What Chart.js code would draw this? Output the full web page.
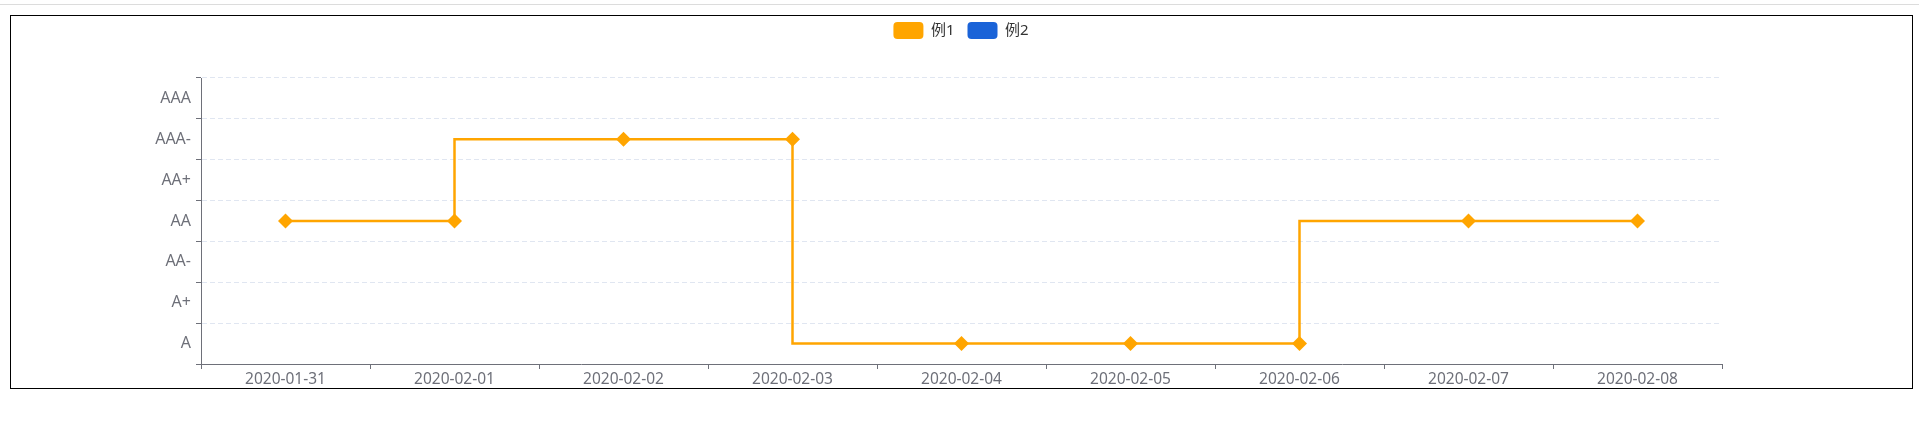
<!DOCTYPE html>
<html>
<head>
<meta charset="utf-8">
<title>rating steps</title>
<script src="https://cdn.jsdelivr.net/npm/chart.js@4/dist/chart.umd.min.js"></script>
<style>
  html, body { margin: 0; padding: 0; background: #fff; }
  body { width: 1919px; height: 435px; position: relative; overflow: hidden; }
  #topline { position: absolute; left: 0; top: 4px; width: 1919px; height: 1px; background: #dcdcdc; }
  #box { position: absolute; left: 10px; top: 15px; width: 1901px; height: 372px; border: 1px solid #000; }
  #wrap { position: absolute; left: 11px; top: 9px; width: 1900px; height: 379px; }
</style>
</head>
<body>
<div id="topline"></div>
<div id="box"></div>
<div id="wrap"><canvas id="myChart" width="1900" height="379"></canvas></div>
<script>
const dates = ['2020-01-31', '2020-02-01', '2020-02-02', '2020-02-03', '2020-02-04',
               '2020-02-05', '2020-02-06', '2020-02-07', '2020-02-08'];
const ratingLabels = ['A', 'A+', 'AA-', 'AA', 'AA+', 'AAA-', 'AAA'];
const series1 = ['AA', 'AA', 'AAA-', 'AAA-', 'A', 'A', 'A', 'AA', 'AA'];
const series2 = [];
const seriesNames = ['例1', '例2'];
const seriesColors = ['#ffa500', '#1a63d8'];

const axisColor = '#6e7079';
const gridColor = '#e0e6f1';

Chart.defaults.font.family = '"Noto Sans", "Noto Sans CJK SC", sans-serif';
Chart.defaults.font.size = 15.5;

// push the plot down below the legend
const legendMargin = {
    id: 'legendMargin',
    beforeInit(chart) {
        const fit = chart.legend.fit;
        chart.legend.fit = function() {
            fit.bind(chart.legend)();
            this.height += 29;
        };
    }
};

const ctx = document.getElementById('myChart').getContext('2d');
const myChart = new Chart(ctx, {
    type: 'line',
    data: {
        labels: dates,
        datasets: [{
            label: seriesNames[0],
            data: series1,
            borderColor: seriesColors[0],
            backgroundColor: seriesColors[0],
            borderWidth: 2.5,
            stepped: 'after',
            pointStyle: 'rectRot',
            pointRadius: 7.5,
            pointHoverRadius: 7.5,
            pointBorderWidth: 0,
            pointBackgroundColor: seriesColors[0]
        }, {
            label: seriesNames[1],
            data: series2,
            borderColor: seriesColors[1],
            backgroundColor: seriesColors[1],
            borderWidth: 2.5
        }]
    },
    options: {
        responsive: false,
        animation: false,
        layout: { padding: 0 },
        plugins: {
            tooltip: { enabled: false },
            legend: {
                position: 'top',
                labels: {
                    boxWidth: 30,
                    boxHeight: 17,
                    padding: 13,
                    color: '#333',
                    font: { size: 15 },
                    generateLabels: chart => seriesNames.map((name, i) => ({
                        text: name,
                        fillStyle: seriesColors[i],
                        strokeStyle: seriesColors[i],
                        lineWidth: 0,
                        borderRadius: 4,
                        hidden: false,
                        datasetIndex: i,
                        fontColor: '#333'
                    }))
                }
            }
        },
        scales: {
            x: {
                type: 'category',
                offset: true,
                grid: {
                    display: true,
                    drawOnChartArea: false,
                    offset: true,
                    tickLength: 5,
                    tickColor: axisColor,
                    color: axisColor
                },
                border: { display: true, color: axisColor, width: 1 },
                ticks: { color: axisColor, padding: 1, maxRotation: 0, autoSkip: false },
                afterFit: scale => { scale.height = 24; }
            },
            y: {
                type: 'category',
                labels: ratingLabels,
                reverse: true,
                offset: true,
                grid: {
                    display: true,
                    offset: true,
                    tickLength: 5,
                    tickColor: axisColor,
                    color: c => c.index === 0 ? 'rgba(0,0,0,0)' : gridColor
                },
                border: { display: true, color: axisColor, width: 1, dash: [5, 3] },
                ticks: { color: axisColor, padding: 5, autoSkip: false, font: { size: 16 } },
                afterFit: scale => { scale.width = 190; }
            },
            // empty space on the right side of the grid
            yRight: {
                type: 'linear',
                position: 'right',
                display: true,
                grid: { display: false },
                border: { display: false },
                ticks: { display: false },
                afterFit: scale => { scale.width = 189; }
            }
        }
    },
    plugins: [legendMargin]
});
</script>
</body>
</html>
